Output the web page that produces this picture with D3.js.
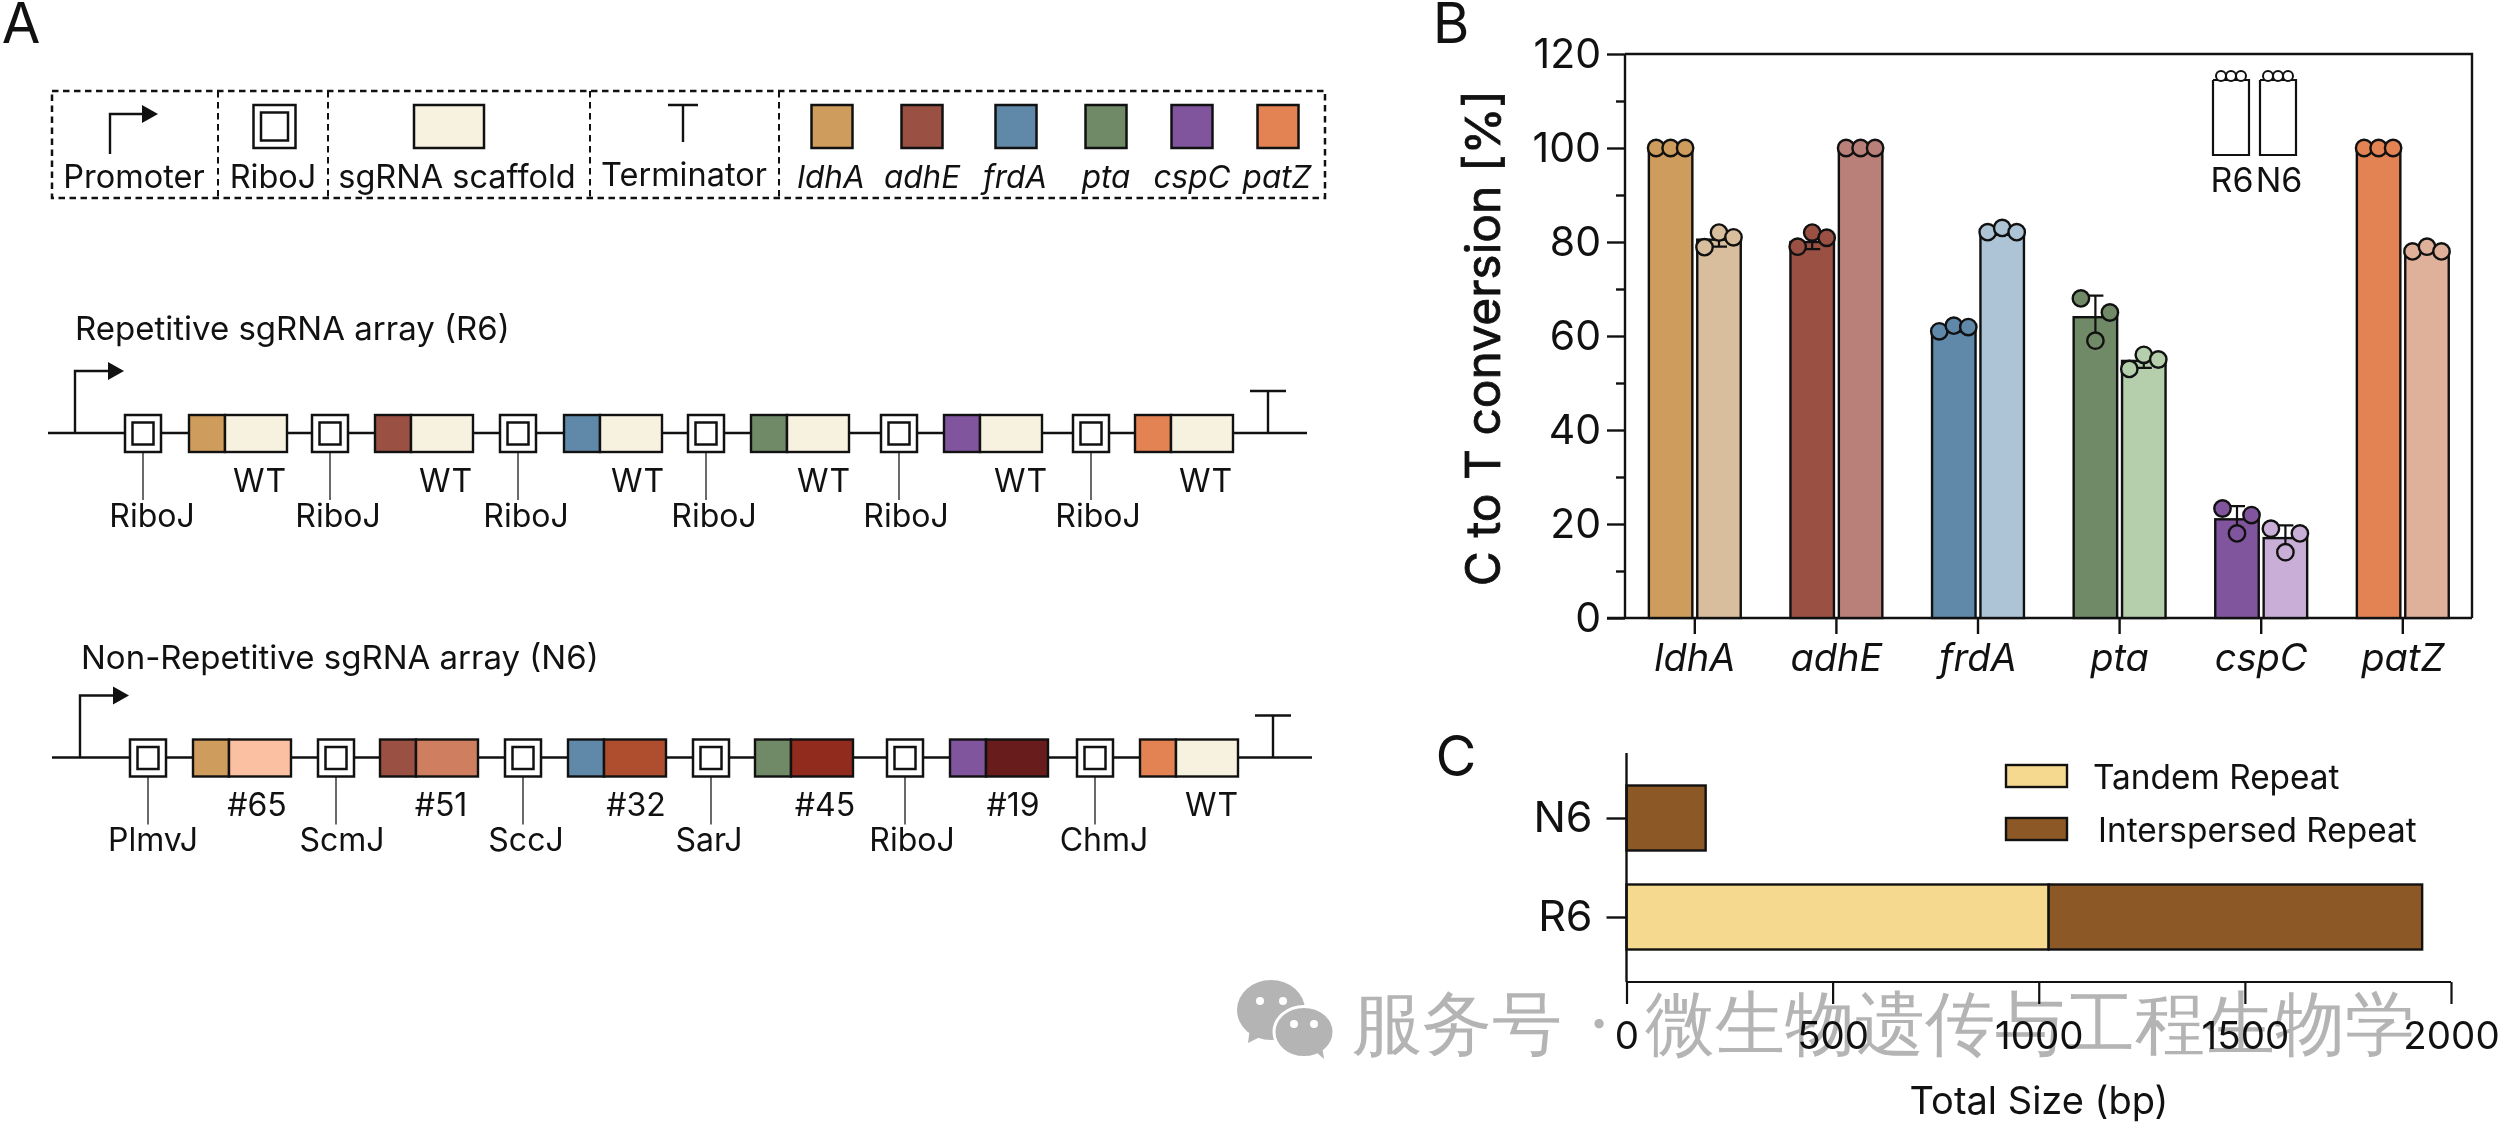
<!DOCTYPE html>
<html><head><meta charset="utf-8">
<script src="https://cdn.jsdelivr.net/npm/d3@7/dist/d3.min.js"></script>
<style>
html,body{margin:0;padding:0;background:#fff}
svg{display:block}
text{font-family:Inter,"Liberation Sans",sans-serif;fill:#111}
</style></head><body>
<svg id="c" width="2499" height="1124" viewBox="0 0 2499 1124"></svg>
<script>
// ---- data ----
const genes = ["ldhA","adhE","frdA","pta","cspC","patZ"];
const geneColors = ["#CE9C5C","#9B5044","#5F88A9","#708A68","#81559D","#E38354"];
const lightColors = ["#D8BE9C","#B97F79","#ADC4D6","#B5CEAC","#C9AFD7","#DFB09A"];
const r6Values = [100,80,61.5,64,21,100];
const n6Values = [80.5,100,82,54.7,17,78.4];
const r6Err = [0,1.5,0.6,4.6,2.8,0];
const n6Err = [1.5,0,0.5,1.5,2.7,0.6];
const r6Reps = [[100,100,100],[79,82,80.9],[61,62.2,61.9],[68,59,65],[23.3,18,21.9],[100,100,100]];
const n6Reps = [[78.9,82,81],[100,100,100],[82.1,83,82.1],[53,56,55],[19,14,18],[78,79,78]];
const sizeCats = ["N6","R6"];
const tandem = [0,1024];
const interspersed = [192,906];
const sizeTicks = [0,500,1000,1500,2000];
const percentTicks = [0,20,40,60,80,100,120];
const legendParts = ["Promoter","RiboJ","sgRNA scaffold","Terminator"];
const r6Insulators = ["RiboJ","RiboJ","RiboJ","RiboJ","RiboJ","RiboJ"];
const n6Insulators = ["PlmvJ","ScmJ","SccJ","SarJ","RiboJ","ChmJ"];
const r6Guides = ["WT","WT","WT","WT","WT","WT"];
const n6Guides = ["#65","#51","#32","#45","#19","WT"];
const scaffoldColor = "#F7F1E0";
const n6GuideColors = ["#FBC0A1","#CF7F60","#AE4E2E","#902B1D","#681C1C",scaffoldColor];
const r6GuideColors = r6Guides.map(()=>scaffoldColor);
const tandemColor = "#F5D98F", interColor = "#8C5825";

const svg = d3.select("#c");
const ink = "#111";
const T = (g,x,y,s,size,anchor="middle",extra={})=>{
  const t = g.append("text").attr("x",x).attr("y",y).attr("font-size",size).attr("text-anchor",anchor)
    .attr("dominant-baseline","central").text(s);
  Object.entries(extra).forEach(([k,v])=>t.attr(k,v));
  return t;
};
// panel letters
T(svg,21,23,"A",56,"middle");
T(svg,1451,23,"B",56,"middle");
T(svg,1456,756,"C",56,"middle");

// ---- Panel A legend ----
const A = svg.append("g");
const lineStyle = (s,w=2)=>s.attr("stroke",ink).attr("stroke-width",w).attr("fill","none");
lineStyle(A.append("rect").attr("x",52).attr("y",91).attr("width",1273).attr("height",107),2.5).attr("stroke-dasharray","6.5 4.5");
[218,328,590,779].forEach(x=>lineStyle(A.append("line").attr("x1",x).attr("x2",x).attr("y1",91).attr("y2",198),2).attr("stroke-dasharray","6.5 4.5"));

function promoter(g,x,yBase,yTop,xEnd){
  lineStyle(g.append("path").attr("d",`M${x},${yBase}V${yTop}H${xEnd-14}`),2.4);
  g.append("path").attr("d",`M${xEnd-16},${yTop-9}L${xEnd},${yTop}L${xEnd-16},${yTop+9}Z`).attr("fill",ink);
}
function terminator(g,x,yBase,yTop,half){
  lineStyle(g.append("path").attr("d",`M${x},${yBase}V${yTop}M${x-half},${yTop}H${x+half}`),2.4);
}
function insulator(g,cx,y0,y1,w){
  g.append("rect").attr("x",cx-w/2).attr("y",y0).attr("width",w).attr("height",y1-y0).attr("fill","#fff").attr("stroke",ink).attr("stroke-width",2.5);
  const m=7.5;
  g.append("rect").attr("x",cx-w/2+m).attr("y",y0+m).attr("width",w-2*m).attr("height",y1-y0-2*m).attr("fill","#fff").attr("stroke",ink).attr("stroke-width",2.5);
}
promoter(A,110,154,114,158);
T(A,134,176,legendParts[0],32.5);
insulator(A,274.5,105,148,42);
T(A,273,176,legendParts[1],32.5);
A.append("rect").attr("x",414).attr("y",105).attr("width",70).attr("height",43).attr("fill",scaffoldColor).attr("stroke",ink).attr("stroke-width",2.5);
T(A,457,176,legendParts[2],32.5);
terminator(A,683,142,105,15);
T(A,684,174,legendParts[3],32.5);
const legGeneX = d3.scaleOrdinal().domain(genes).range([832,922,1016,1106,1192,1278]);
genes.forEach((g,i)=>{
  A.append("rect").attr("x",legGeneX(g)-20.5).attr("y",105).attr("width",41).attr("height",43).attr("fill",geneColors[i]).attr("stroke",ink).attr("stroke-width",2.5);
});
const legGeneLabel = d3.scaleOrdinal().domain(genes).range([831,922,1015,1106,1192,1277]);
genes.forEach(g=>T(A,legGeneLabel(g),176,g,31.5,"middle",{"font-style":"italic"}));

// ---- Panel A arrays ----
function drawArray(o){
  const g = svg.append("g");
  const insX = d3.scaleLinear().domain(d3.range(6)).range(o.insX);
  const geneX = d3.scaleLinear().domain(d3.range(6)).range(o.geneX);
  T(g,o.titleX,o.titleY,o.title,33,"start");
  lineStyle(g.append("line").attr("x1",o.wire[0]).attr("x2",o.wire[1]).attr("y1",o.y).attr("y2",o.y),2.4);
  promoter(g,o.promX,o.y,o.y-62,o.promX+49);
  terminator(g,o.termX,o.y,o.y-42,18);
  genes.forEach((gene,i)=>{
    const cx=insX(i);
    g.append("line").attr("x1",cx).attr("x2",cx).attr("y1",o.y+19).attr("y2",o.y+67).attr("stroke","#444").attr("stroke-width",1.6);
    insulator(g,cx,o.y-18,o.y+19,36);
    const x=geneX(i);
    g.append("rect").attr("x",x).attr("y",o.y-18).attr("width",36).attr("height",37).attr("fill",geneColors[i]).attr("stroke",ink).attr("stroke-width",2.4);
    g.append("rect").attr("x",x+36).attr("y",o.y-18).attr("width",62).attr("height",37).attr("fill",o.guideColors[i]).attr("stroke",ink).attr("stroke-width",2.4);
    const lab = T(g,o.guideLabelX[i],o.y+47,o.guides[i],32);
    if(o.guides[i]==="WT") lab.attr("letter-spacing",1);
    T(g,o.insLabelX[i],o.y+82,o.ins[i],32);
  });
}
drawArray({y:433,title:"Repetitive sgRNA array (R6)",titleX:75,titleY:328,wire:[48,1307],promX:75,termX:1268,
  insX:[143,330,518,706,899,1091],geneX:[189,375,564,751,944,1135],
  guides:r6Guides,ins:r6Insulators,guideColors:r6GuideColors,
  guideLabelX:[260,446,638,824,1021,1206],insLabelX:[152,338,526,714,906,1098]});
drawArray({y:757.5,title:"Non-Repetitive sgRNA array (N6)",titleX:81,titleY:657,wire:[52,1312],promX:80,termX:1273,
  insX:[148,336,523,711,905,1095],geneX:[193,380,568,755,950,1140],
  guides:n6Guides,ins:n6Insulators,guideColors:n6GuideColors,
  guideLabelX:[257,441,636,825,1013,1212],insLabelX:[153,342,526,709,912,1104]});

// ---- Panel B ----
const B = svg.append("g");
const bX = d3.scaleBand().domain(genes).range([1624,2473.6]);
const bY = d3.scaleLinear().domain([0,120]).range([618,54]);
const minor = d3.range(10,120,20);
const axY = d3.axisLeft(bY).tickValues(percentTicks).tickSize(18).tickPadding(6).tickFormat(d3.format("d"));
const yG = B.append("g").attr("transform","translate(1625,0)").call(axY);
yG.selectAll("text").attr("font-size",41).style("fill",ink);
yG.selectAll("line,path").attr("stroke",ink).attr("stroke-width",2.4);
yG.select("path").attr("d","M0,54V618");
const yMinor = B.append("g").attr("transform","translate(1625,0)").call(d3.axisLeft(bY).tickValues(minor).tickSize(9).tickFormat(""));
yMinor.select("path").remove(); yMinor.selectAll("line").attr("stroke",ink).attr("stroke-width",2.4);
const axX = d3.axisBottom(bX).tickSize(16).tickPadding(10);
const xG = B.append("g").attr("transform","translate(0,618)").call(axX);
xG.selectAll("text").attr("font-size",38).attr("font-style","italic").style("fill",ink);
xG.selectAll("line,path").attr("stroke",ink).attr("stroke-width",2.4);
xG.select("path").attr("d","M1607,0H2472");
B.append("path").attr("d","M1625,54H2472V618").attr("fill","none").attr("stroke",ink).attr("stroke-width",2.4);
T(B,1482,338,"C to T conversion [%]",48,"middle",{transform:"rotate(-90 1482 338)","font-family":"'DejaVu Sans'","style":"fill:#111;stroke:#111;stroke-width:0.8"});

const barW=43.5, barOff=24.2, dotR=8.2, dotStep=14.5;
const groups = [
  {vals:r6Values,errs:r6Err,reps:r6Reps,dir:-1,fill:geneColors},
  {vals:n6Values,errs:n6Err,reps:n6Reps,dir:1,fill:lightColors}];
groups.forEach(s=>{
  genes.forEach((g,i)=>{
    const cx=bX(g)+bX.bandwidth()/2+s.dir*barOff;
    B.append("rect").attr("x",cx-barW/2).attr("width",barW).attr("y",bY(s.vals[i])).attr("height",bY(0)-bY(s.vals[i]))
      .attr("fill",s.fill[i]).attr("stroke",ink).attr("stroke-width",2.4);
    if(s.errs[i]>0){
      const t=bY(s.vals[i]+s.errs[i]), b=bY(s.vals[i]-s.errs[i]);
      lineStyle(B.append("path").attr("d",`M${cx},${t}V${b}M${cx-8},${t}H${cx+8}M${cx-8},${b}H${cx+8}`),2.2);
    }
    s.reps[i].forEach((v,j)=>{
      B.append("circle").attr("cx",cx+(j-1)*dotStep).attr("cy",bY(v)).attr("r",dotR).attr("fill",s.fill[i]).attr("stroke",ink).attr("stroke-width",2.4);
    });
  });
});
// inset key
const keyCats=["R6","N6"];
const keyX=d3.scaleOrdinal().domain(keyCats).range([2231,2278]);
keyCats.forEach(k=>{
  const c=keyX(k);
  lineStyle(B.append("path").attr("d",`M${c-18},80V155H${c+18}V80H${c-18}`),2.2);
  [-1,0,1].forEach(j=>B.append("circle").attr("cx",c+j*10).attr("cy",76).attr("r",5).attr("fill","#fff").attr("stroke",ink).attr("stroke-width",2));
  T(B,c+1,179,k,34);
});

// ---- Panel C ----
const C = svg.append("g");
const cX = d3.scaleLinear().domain([0,2000]).range([1626.5,2451]);
const cY = d3.scalePoint().domain(sizeCats).range([818,917]);
const cBarH=65;
sizeCats.forEach((c,i)=>{
  const y=cY(c)-cBarH/2;
  if(tandem[i]>0) C.append("rect").attr("x",cX(0)).attr("y",y).attr("width",cX(tandem[i])-cX(0)).attr("height",cBarH).attr("fill",tandemColor).attr("stroke",ink).attr("stroke-width",2.4);
  C.append("rect").attr("x",cX(tandem[i])).attr("y",y).attr("width",cX(tandem[i]+interspersed[i])-cX(tandem[i])).attr("height",cBarH).attr("fill",interColor).attr("stroke",ink).attr("stroke-width",2.4);
});
const cxG = C.append("g").attr("transform","translate(0,982)").call(d3.axisBottom(cX).tickValues(sizeTicks).tickSize(22).tickPadding(18).tickFormat(d3.format("d")));
cxG.selectAll("text").attr("font-size",38.5).style("fill",ink);
cxG.selectAll("line,path").attr("stroke",ink).attr("stroke-width",2.2);
cxG.select("path").attr("d","M1626.5,0H2451");
const cyG = C.append("g").attr("transform","translate(1626.5,0)").call(d3.axisLeft(cY).tickSize(20).tickPadding(14));
cyG.selectAll("text").attr("font-size",43).style("fill",ink);
cyG.selectAll("line,path").attr("stroke",ink).attr("stroke-width",2.4);
cyG.select("path").attr("d","M0,753V982");
T(C,2039,1100,"Total Size (bp)",38);
[["Tandem Repeat",tandemColor,765,2093],["Interspersed Repeat",interColor,818,2098]].forEach(([s,col,y,tx])=>{
  C.append("rect").attr("x",2006).attr("y",y).attr("width",61).attr("height",22).attr("fill",col).attr("stroke",ink).attr("stroke-width",2.4);
  T(C,tx,y+12,s,33.4,"start");
});

// ---- watermark ----
const W = svg.append("g").style("mix-blend-mode","multiply");
const wm="#B4B4B4";
const wf={"font-family":"'Noto Sans CJK SC'",style:"fill:#B4B4B4"};
T(W,1352,1022,"服务号",70,"start",wf);
T(W,1599,1022,"·",70,"middle",wf);
T(W,1645,1022,"微生物遗传与工程生物学",70,"start",wf);
W.append("ellipse").attr("cx",1271).attr("cy",1010).attr("rx",34).attr("ry",30).attr("fill",wm);
W.append("path").attr("d","M1250,1028L1248,1043L1266,1034Z").attr("fill",wm);
const W2 = svg.append("g");
W2.append("ellipse").attr("cx",1304).attr("cy",1032).attr("rx",30).attr("ry",25.5).attr("fill",wm).attr("stroke","#fff").attr("stroke-width",3);
W2.append("path").attr("d","M1316,1052L1324,1059L1322,1046Z").attr("fill",wm);
[[1260,1001],[1283,1001],[1294,1024],[1314,1024]].forEach(([x,y])=>W2.append("circle").attr("cx",x).attr("cy",y).attr("r",4).attr("fill","#fff"));
</script></body></html>
